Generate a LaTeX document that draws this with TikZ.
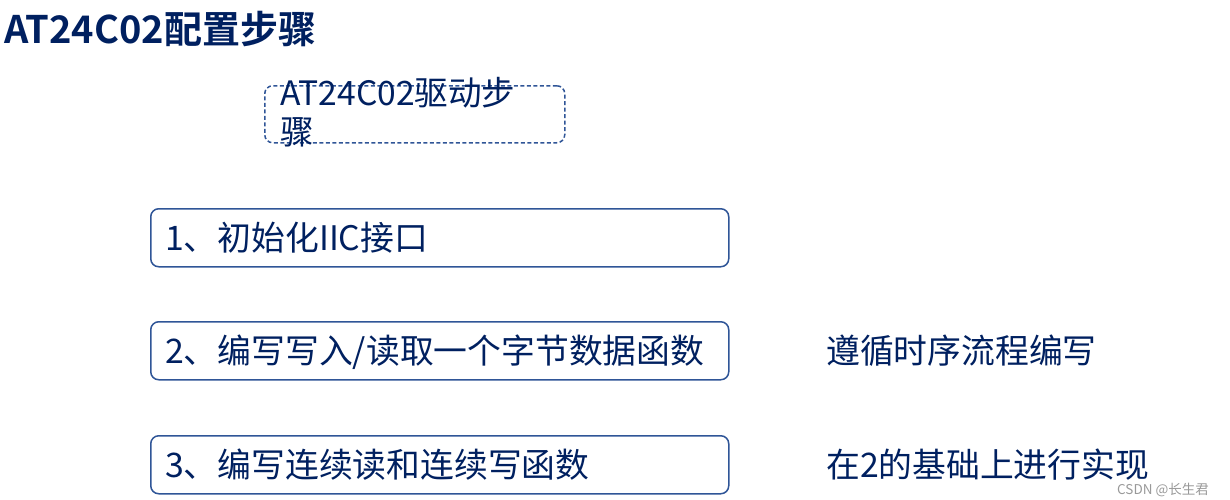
\documentclass[tikz,border=0pt]{standalone}
\usepackage{fontspec}
\setmainfont{Noto Sans CJK SC}[BoldFont={Noto Sans CJK SC Bold}]
\usepackage{tikz}
\usetikzlibrary{positioning}
\definecolor{darkblue}{RGB}{0,32,96}
\definecolor{edgeblue}{RGB}{47,85,151}

\begin{document}
\begin{tikzpicture}[x=1pt, y=-1pt,
  stepbox/.style={draw=edgeblue, line width=1.5pt, rounded corners=8pt, minimum width=578pt, minimum height=58pt, anchor=north west, inner sep=0pt},
  steptext/.style={text=darkblue, font=\fontsize{33.8}{38}\selectfont, anchor=base west, inner sep=0pt}]
  \useasboundingbox (0,0) rectangle (1230,499);
  \node (title) [anchor=base west, inner sep=0pt, text=darkblue, font=\fontsize{38}{42}\selectfont\bfseries] at (4,43) {AT24C02配置步骤};
  \node (drvbox) [draw=edgeblue, line width=1.5pt, dash pattern=on 4pt off 2.5pt, rounded corners=8pt, minimum width=300pt, minimum height=57pt, anchor=north west, inner sep=0pt] at (264,85) {};
  \node (drvtext) [anchor=north west, inner sep=0pt, text=darkblue, align=left, font=\fontsize{33.6}{39}\selectfont] at (280,77) {AT24C02驱动步\\骤};
  \node (box1) [stepbox] at (150,208) {};
  \node (box2) [stepbox] at (150,321) {};
  \node (box3) [stepbox] at (150,435) {};
  \node (step1) [steptext] at (165,250) {1、初始化IIC接口};
  \node (step2) [steptext] at (165,363) {2、编写写入/读取一个字节数据函数};
  \node (step3) [steptext] at (165,477) {3、编写连续读和连续写函数};
  \node (note2) [steptext] at (826,363) {遵循时序流程编写};
  \node (note3) [steptext] at (826,477) {在2的基础上进行实现};
  \node (mark) [anchor=base west, inner sep=0pt, text=black!40, font=\fontsize{13.5}{16}\selectfont] at (1117,494) {CSDN @长生君};
\end{tikzpicture}
\end{document}
